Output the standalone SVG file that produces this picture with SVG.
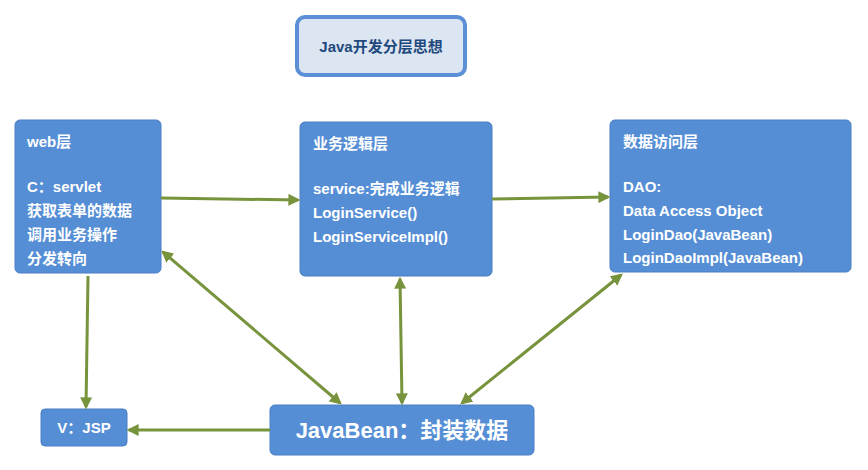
<svg xmlns="http://www.w3.org/2000/svg" width="868" height="470" viewBox="0 0 868 470">
<style>
.n{fill:#558ed5;stroke:#4a7fc4;stroke-width:1}
.t{font-family:"Liberation Sans","Noto Sans CJK SC",sans-serif;font-weight:bold;fill:#fff;font-size:15px}
.c{stroke:#77933c;stroke-width:3;fill:none;marker-end:url(#a)}
.b{marker-start:url(#s)}
</style>
<defs>
<marker id="a" viewBox="0 0 10 10" refX="8" refY="5" markerWidth="4" markerHeight="4" orient="auto"><path d="M0,0L10,5L0,10z" fill="#77933c"/></marker>
<marker id="s" viewBox="0 0 10 10" refX="2" refY="5" markerWidth="4" markerHeight="4" orient="auto"><path d="M10,0L0,5L10,10z" fill="#77933c"/></marker>
</defs>
<rect width="868" height="470" fill="#fff"/>
<g id="title"><rect x="297" y="17" width="168" height="58" rx="8" fill="#dce6f2" stroke="#5b8fd6" stroke-width="4"/><text x="381" y="52" text-anchor="middle" class="t" style="fill:#1f497d;font-size:15px">Java开发分层思想</text></g>
<g id="web"><rect class="n" x="15" y="120" width="146" height="153" rx="5"/><text class="t" x="27" y="147">web层</text><text class="t" x="27" y="192">C：servlet</text><text class="t" x="27" y="216">获取表单的数据</text><text class="t" x="27" y="240">调用业务操作</text><text class="t" x="27" y="264">分发转向</text></g>
<g id="service"><rect class="n" x="300" y="122" width="192" height="154" rx="5"/><text class="t" x="313" y="149">业务逻辑层</text><text class="t" x="313" y="194">service:完成业务逻辑</text><text class="t" x="313" y="218">LoginService()</text><text class="t" x="313" y="242">LoginServiceImpl()</text></g>
<g id="dao"><rect class="n" x="610" y="120" width="241" height="152" rx="5"/><text class="t" x="623" y="147">数据访问层</text><text class="t" x="623" y="192">DAO:</text><text class="t" x="623" y="216">Data Access Object</text><text class="t" x="623" y="240">LoginDao(JavaBean)</text><text class="t" x="623" y="263">LoginDaoImpl(JavaBean)</text></g>
<g id="jsp"><rect class="n" x="41" y="409" width="86" height="37" rx="4"/><text class="t" x="84" y="433" text-anchor="middle">V：JSP</text></g>
<g id="bean"><rect class="n" x="270" y="405" width="264" height="50" rx="5"/><text class="t" x="402" y="438" text-anchor="middle" style="font-size:22px">JavaBean：封装数据</text></g>
<g id="connectors">
<line class="c" x1="161" y1="198" x2="298" y2="200"/>
<line class="c" x1="492" y1="199" x2="608" y2="197"/>
<line class="c" x1="88" y1="276" x2="86" y2="407"/>
<line class="c" x1="270" y1="430" x2="129" y2="430"/>
<line class="c b" x1="163" y1="252" x2="340" y2="403"/>
<line class="c b" x1="400" y1="279" x2="402" y2="403"/>
<line class="c b" x1="621" y1="275" x2="462" y2="403"/>
</g>
</svg>
